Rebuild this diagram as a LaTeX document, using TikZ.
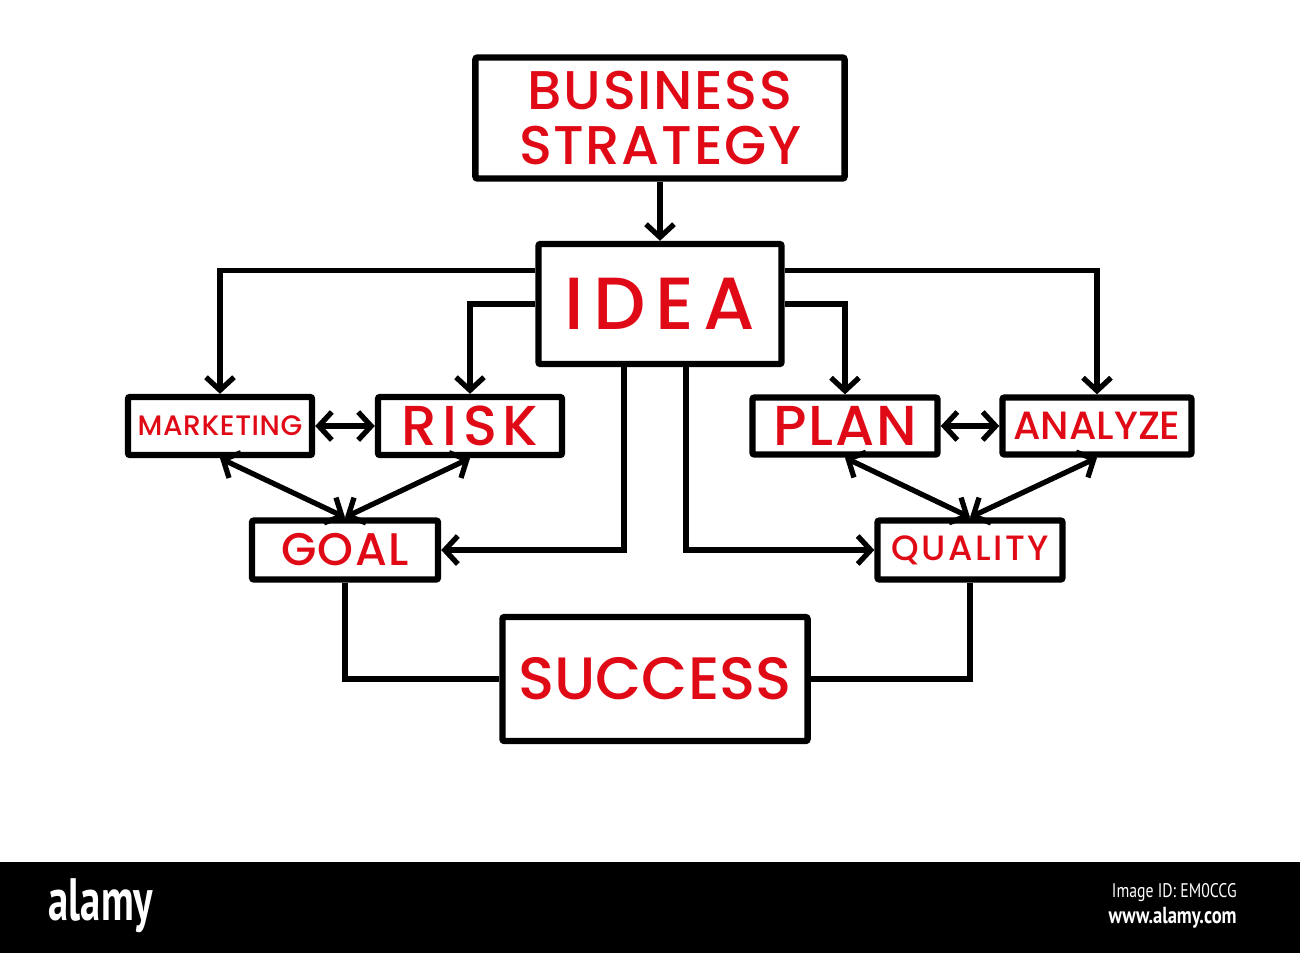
\documentclass[tikz,border=0pt]{standalone}
\usepackage{fontspec}
\setmainfont{Poppins Medium}
\newfontfamily\tagfont{PT Sans}
\usetikzlibrary{arrows.meta}

\definecolor{marker}{RGB}{224,10,22}
\newcommand{\spaced}[1]{\addfontfeature{LetterSpace=#1}}

\begin{document}
\begin{tikzpicture}[
		x=0.01cm, y=-0.01cm,
		line width=1.5pt,
		>={Straight Barb[length=1.3mm,width=2.8mm]},
		box/.style={draw, line width=1.8pt, rounded corners=0.6pt, inner sep=0pt, text=marker, align=center},
	]
		\useasboundingbox (0,0) rectangle (1300,953);

		% boxes
		\node[box, minimum width=3.69cm, minimum height=1.21cm, font=\fontsize{15.5}{15.6}\selectfont\spaced{3}] (bs) at (660,118) {BUSINESS\\STRATEGY};
		\node[box, minimum width=2.43cm, minimum height=1.2cm, font=\fontsize{21}{21}\selectfont\spaced{13}] (idea) at (660,304) {IDEA};
		\node[box, minimum width=1.84cm, minimum height=0.58cm, font=\fontsize{8}{8}\selectfont\spaced{2}] (mkt) at (220,426) {MARKETING};
		\node[box, minimum width=1.84cm, minimum height=0.58cm, font=\fontsize{16}{16}\selectfont\spaced{10}] (risk) at (470,426) {RISK};
		\node[box, minimum width=1.85cm, minimum height=0.57cm, font=\fontsize{16}{16}\selectfont\spaced{3}] (plan) at (845,426) {PLAN};
		\node[box, minimum width=1.89cm, minimum height=0.57cm, font=\fontsize{11.2}{11.2}\selectfont] (anl) at (1097,426) {ANALYZE};
		\node[box, minimum width=1.86cm, minimum height=0.59cm, font=\fontsize{13}{13}\selectfont\spaced{3}] (goal) at (345,550) {GOAL};
		\node[box, minimum width=1.85cm, minimum height=0.59cm, font=\fontsize{10}{10}\selectfont\spaced{7}] (qual) at (970,550) {QUALITY};
		\node[box, minimum width=3.05cm, minimum height=1.24cm, font=\fontsize{17}{17}\selectfont] (succ) at (655,679) {SUCCESS};

		% connections
		\draw[->] (bs) -- (idea);
		\draw[->] (idea.165) -| (mkt);
		\draw[->] (idea.west) -| (risk);
		\draw[->] (idea.east) -| (plan);
		\draw[->] (idea.15) -| (anl);
		\draw[<->] (mkt) -- (risk);
		\draw[<->] (plan) -- (anl);
		\draw[<->] (mkt.south) -- (goal.north);
		\draw[<->] (risk.south) -- (goal.north);
		\draw[<->] (plan.south) -- (qual.north);
		\draw[<->] (anl.south) -- (qual.north);
		\draw[->] ([xshift=-3.6mm]idea.south) |- (goal);
		\draw[->] ([xshift=2.6mm]idea.south) |- (qual);
		\draw (goal) |- (succ);
		\draw (qual) |- (succ);

		% footer
		\fill[black] (0,862) rectangle (1300,953);
		\node[text=white, font=\tagfont\fontsize{17}{17}\bfseries\selectfont] (logo) at (101,906) {\scalebox{0.68}[1]{alamy}};
		\node[text=white, font=\tagfont\fontsize{5.6}{6}\selectfont, anchor=east] (imgid) at (1251,893) {\scalebox{0.8}[1]{Image ID: EM0CCG}};
		\node[text=white, font=\tagfont\fontsize{6.6}{7}\bfseries\selectfont, anchor=east] (site) at (1251,918) {\scalebox{0.8}[1]{www.alamy.com}};
	\end{tikzpicture}
\end{document}
